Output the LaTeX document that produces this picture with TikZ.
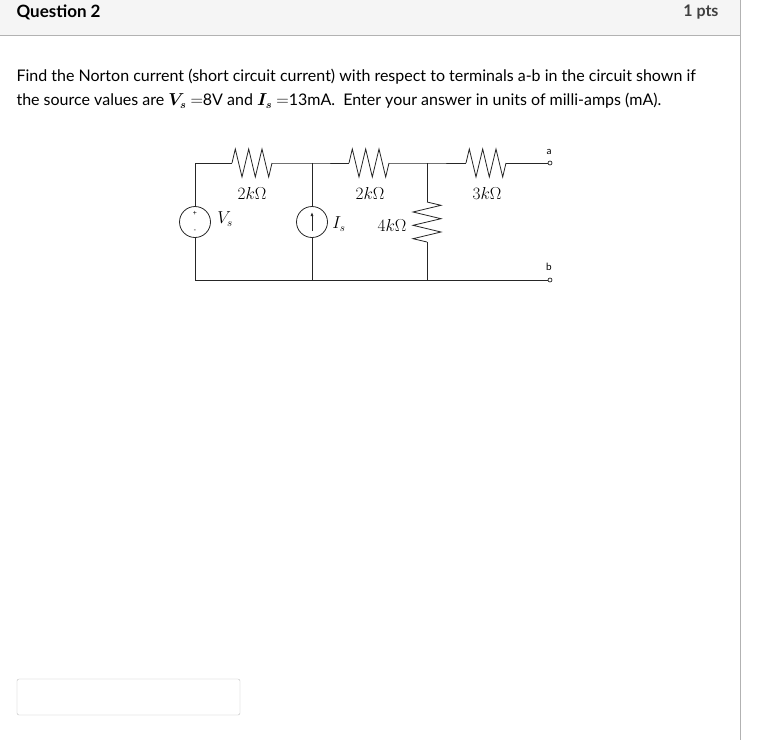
\documentclass[tikz,border=0pt]{standalone}
\usepackage{fontspec}
\setmainfont{Lato}
\usetikzlibrary{arrows.meta}
\begin{document}
\begin{tikzpicture}[x=1pt,y=-1pt,
  wire/.style={line width=0.8pt,black!85},
  src/.style={circle,draw,black!85,line width=0.8pt,minimum size=31pt,inner sep=0pt},
  term/.style={circle,draw,line width=0.6pt,inner sep=0pt,minimum size=4pt,fill=white},
  lbl/.style={font=\fontsize{16}{18}\selectfont\rmfamily},
  mlbl/.style={font=\fontsize{16}{18}\selectfont},
  zz/.pic={\draw[wire,line join=miter] (0,0) -- (3.3,-14) -- (10,14) -- (16.7,-14) -- (23.3,14) -- (30,-14) -- (36.7,14) -- (40,0);}]
\useasboundingbox (0,0) rectangle (766,740);
\fill[white] (0,0) rectangle (766,740);
\fill[black!4] (0,0) rectangle (740,35);
\draw[black!30] (0,35) -- (740,35);
\draw[black!30] (740,0) -- (740,740);
\node[anchor=west,font=\fontsize{17}{20}\selectfont\bfseries] (q) at (13,12) {Question 2};
\node[anchor=east,font=\fontsize{16}{20}\selectfont\bfseries,text=black!75] (p) at (722,12) {1 pts};
\node[anchor=west,font=\fontsize{16}{18}\selectfont] (t1) at (13,77) {Find the Norton current (short circuit current) with respect to terminals a-b in the circuit shown if};
\node[anchor=west,font=\fontsize{16}{18}\selectfont] (t2) at (13,101) {the source values are {\boldmath$V_s$} $=$8V and {\boldmath$I_s$} $=$13mA.\ \ Enter your answer in units of milli-amps (mA).};
\draw[black!25,rounded corners=2pt] (17,679) rectangle (240,715);
% circuit
\coordinate (tl) at (195,163); \coordinate (bl) at (195,280);
\coordinate (r1a) at (232,163); \coordinate (r1b) at (272,163);
\coordinate (n1) at (312,163); \coordinate (n1b) at (312,280);
\coordinate (r2a) at (349,163); \coordinate (r2b) at (389,163);
\coordinate (n2) at (427,163); \coordinate (n2b) at (427,280);
\coordinate (r4a) at (427,202); \coordinate (r4b) at (427,242);
\coordinate (r3a) at (466,163); \coordinate (r3b) at (506,163);
\node[src] (vs) at (195,222) {};
\node[src] (is) at (312,222) {};
\draw[wire] (vs.north) -- (tl) -- (r1a);
\pic at (r1a) {zz};
\draw[wire] (r1b) -- (n1) -- (r2a);
\pic at (r2a) {zz};
\draw[wire] (r2b) -- (n2) -- (r3a);
\pic at (r3a) {zz};
\node[term] (a) at (550,163) {};
\node[term] (b) at (550,280) {};
\draw[wire] (r3b) -- (a.west);
\draw[wire] (vs.south) -- (bl) -- (b.west);
\draw[wire] (n1) -- (is.north); \draw[wire] (is.south) -- (n1b);
\draw[wire] (n2) -- (r4a);
\pic[rotate=-90] at (r4a) {zz};
\draw[wire] (r4b) -- (n2b);
\draw[wire,-{Latex[length=4pt]}] ([yshift=-9pt]is.center) -- ([yshift=10pt]is.center);
\node[font=\fontsize{7}{7}\selectfont] (plus) at (195,213) {+};
\node[font=\fontsize{7}{7}\selectfont] (minus) at (195,231) {-};
\node[mlbl] (lvs) at (225,219) {$V_s$};
\node[mlbl] (lis) at (339,224) {$I_s$};
\node[lbl] (l1) at (252,193) {$2k\Omega$};
\node[lbl] (l2) at (370,193) {$2k\Omega$};
\node[lbl] (l3) at (487,193) {$3k\Omega$};
\node[lbl] (l4) at (392,225) {$4k\Omega$};
\node[font=\fontsize{10}{10}\selectfont] (la) at (549,152) {a};
\node[font=\fontsize{10}{10}\selectfont] (lb) at (549,267) {b};
\end{tikzpicture}
\end{document}
